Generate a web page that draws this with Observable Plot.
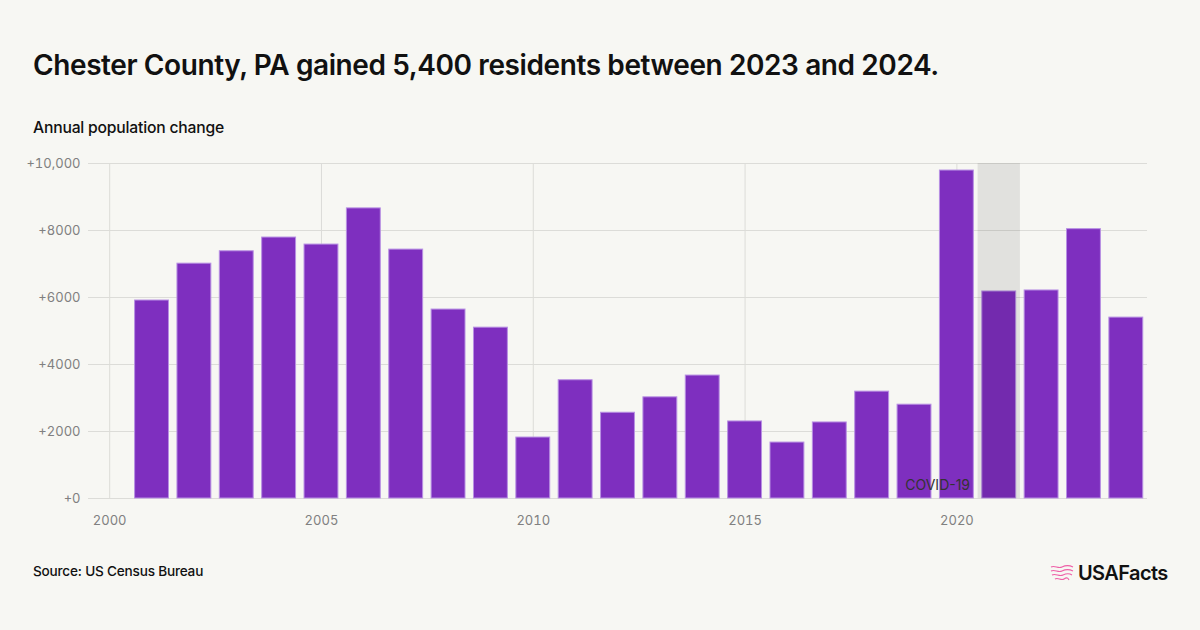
<!DOCTYPE html>
<html>
<head>
<meta charset="utf-8">
<script src="https://cdn.jsdelivr.net/npm/d3@7"></script>
<script src="https://cdn.jsdelivr.net/npm/@observablehq/plot@0.6"></script>
<style>
  html, body { margin: 0; padding: 0; background: #f7f7f3; }
  body { width: 1200px; height: 630px; position: relative; overflow: hidden; font-family: Inter, "Noto Sans", sans-serif; color: #111; }
  #title { position: absolute; left: 33px; top: 48px; font-size: 28px; font-weight: 600; letter-spacing: -0.4px; margin: 0; }
  #subtitle { position: absolute; left: 33px; top: 118px; font-size: 15.7px; font-weight: 500; letter-spacing: -0.2px; }
  #chart { position: absolute; left: 0; top: 140px; }
  #source { position: absolute; left: 33px; top: 563px; font-size: 13.6px; font-weight: 500; letter-spacing: -0.2px; }
  #logo { position: absolute; left: 1050px; top: 561px; display: flex; align-items: center; gap: 4px; }
  #logo span { font-size: 20px; font-weight: 600; letter-spacing: -0.6px; color: #111; }
</style>
</head>
<body>
<h1 id="title">Chester County, PA gained 5,400 residents between 2023 and 2024.</h1>
<div id="subtitle">Annual population change</div>
<div id="chart"></div>
<div id="source">Source: US Census Bureau</div>
<div id="logo">
  <svg width="24" height="18" viewBox="0 0 24 18" fill="none" stroke="#ee5fa7" stroke-width="1.1">
    <path d="M1 3 C5 1, 8 5, 12 3 S19 1, 23 3"/>
    <path d="M1 7 C5 5, 8 9, 12 7 S19 5, 23 7"/>
    <path d="M2 11 C6 9, 9 13, 13 11 S19 9, 22 11"/>
    <path d="M5 15 C8 13, 11 17, 14 15 S18 14, 19 16"/>
  </svg>
  <span>USAFacts</span>
</div>
<script>
// Annual population change, Chester County, PA
const years = [2001, 2002, 2003, 2004, 2005, 2006, 2007, 2008, 2009, 2010, 2011, 2012,
               2013, 2014, 2015, 2016, 2017, 2018, 2019, 2020, 2021, 2022, 2023, 2024];
const changes = [5910, 7010, 7380, 7790, 7580, 8660, 7430, 5640, 5100, 1820, 3530, 2560,
                 3020, 3670, 2300, 1670, 2270, 3190, 2800, 9790, 6180, 6210, 8040, 5400];

const yTicks = [0, 2000, 4000, 6000, 8000, 10000];
const yTickLabels = ["+0", "+2000", "+4000", "+6000", "+8000", "+10,000"];
const xTicks = [2000, 2005, 2010, 2015, 2020];

// Shaded period for the pandemic
const covidStart = [2020.5];
const covidEnd = [2021.5];
const covidLabel = ["COVID-19"];

const data = years.map((year, i) => ({year, change: changes[i]}));
const covid = covidStart.map((s, i) => ({start: s, end: covidEnd[i], label: covidLabel[i]}));

const chart = Plot.plot({
  width: 1200,
  height: 400,
  marginLeft: 88,
  marginRight: 53,
  marginTop: 23,
  marginBottom: 42,
  style: {background: "transparent", fontFamily: "Inter, 'Noto Sans', sans-serif", fontSize: "13px"},
  x: {domain: [1999.5, 2024.5], ticks: xTicks, tickFormat: d => String(d), label: null},
  y: {domain: [0, 10000], ticks: yTicks, label: null},
  marks: [
    Plot.gridY(yTicks, {stroke: "#dcdcd8", strokeOpacity: 1, strokeWidth: 1}),
    Plot.gridX(xTicks, {stroke: "#dcdcd8", strokeOpacity: 1, strokeWidth: 1}),
    Plot.rectY(data, {
      x1: d => d.year - 0.4,
      x2: d => d.year + 0.4,
      y: "change",
      fill: "#7e2fbf",
      stroke: "#b890e3",
      strokeWidth: 1
    }),
    Plot.rect(covid, {x1: "start", x2: "end", y1: 0, y2: 10000, fill: "#000", fillOpacity: 0.085}),
    Plot.text(covid, {x: "start", y: 0, text: "label", textAnchor: "end", dx: -8, dy: -13,
                      fill: "#333", fontSize: 14}),
    Plot.axisY({ticks: yTicks, tickFormat: (d) => yTickLabels[yTicks.indexOf(d)],
                tickSize: 0, tickPadding: 8, fill: "#808080", fontSize: 13, label: null}),
    Plot.axisX({ticks: xTicks, tickFormat: d => String(d), tickSize: 0, tickPadding: 17,
                fill: "#808080", fontSize: 13, label: null})
  ]
});
document.getElementById("chart").appendChild(chart);
</script>
</body>
</html>
